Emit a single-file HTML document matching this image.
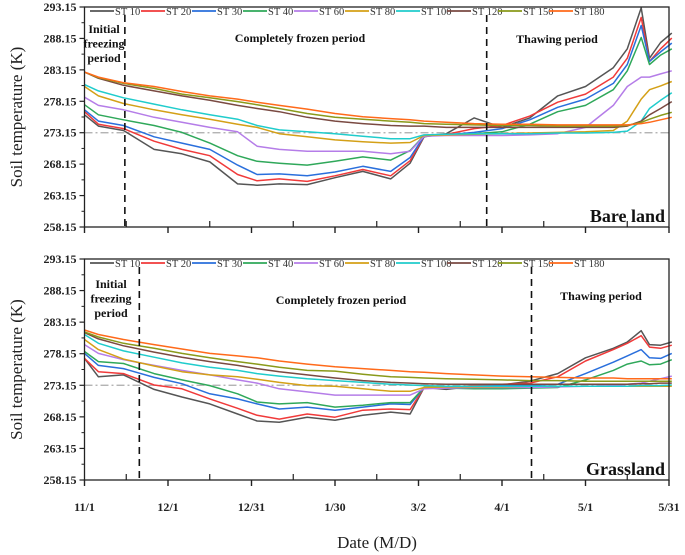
<!DOCTYPE html>
<html><head><meta charset="utf-8"><style>
html,body{margin:0;padding:0;background:#fff;}
svg{display:block;font-family:"Liberation Serif",serif;}
</style></head><body>
<svg id="chart" width="685" height="555" viewBox="0 0 685 555"></svg>
<script>
const days=[0,5,14,25,35,45,55,62,70,80,90,100,110,117,122,130,140,150,160,170,180,190,195,200,203,207,211];
const seriesNames=["ST 10","ST 20","ST 30","ST 40","ST 60","ST 80","ST 100","ST 120","ST 150","ST 180"];
const seriesColors=["#555555","#f03a3a","#2a6fdc","#2fa85a","#b57de8","#d4a017","#20cccc","#7a4a42","#8a9a1a","#ff6a1a"];
const xTickLabels=["11/1","12/1","12/31","1/30","3/2","4/1","5/1","5/31"];
const yTickValues=[258.15,263.15,268.15,273.15,278.15,283.15,288.15,293.15];
const bare10=[276.0,274.2,273.5,270.5,269.8,268.5,265.0,264.8,265.0,264.9,266.0,267.0,265.8,268.3,272.5,273.0,275.5,274.0,275.5,279.0,280.5,283.5,286.5,293.0,285.0,287.5,289.0];
const bare20=[276.5,274.5,273.8,271.8,270.5,269.5,266.5,265.5,265.8,265.4,266.3,267.3,266.3,268.7,272.6,272.9,273.8,274.3,275.8,278.0,279.3,282.0,285.0,291.5,284.5,286.5,288.2];
const bare30=[276.8,275.0,274.3,272.5,271.5,270.5,268.0,266.5,266.6,266.3,266.9,267.8,267.0,269.2,272.6,272.8,273.2,273.8,275.2,277.2,278.5,281.0,284.0,290.2,284.5,286.0,287.4];
const bare40=[277.6,276.0,275.2,274.3,273.2,271.5,269.5,268.6,268.3,268.0,268.6,269.3,268.8,270.3,272.7,272.8,273.0,273.3,274.5,276.5,277.5,280.0,283.0,288.3,284.0,285.5,286.5];
const bare60=[278.8,277.5,276.8,275.6,274.8,274.0,273.3,271.0,270.5,270.2,270.2,270.2,269.8,270.2,272.6,272.7,272.7,272.7,272.8,273.0,274.0,277.5,280.5,282.0,282.0,282.5,283.0];
const bare80=[280.5,279.0,277.8,276.8,276.0,275.3,274.5,274.0,273.0,272.5,272.0,271.7,271.5,271.6,272.7,272.8,272.9,273.0,273.1,273.2,273.3,273.5,275.0,278.5,280.0,280.6,281.3];
const bare100=[280.8,279.8,278.7,277.7,276.8,276.0,275.3,274.3,273.6,273.3,273.0,272.6,272.2,272.2,272.8,272.9,273.0,273.0,273.0,273.1,273.1,273.2,273.4,275.0,277.0,278.3,279.5];
const bare120=[282.8,281.8,280.7,279.8,279.0,278.3,277.5,277.0,276.5,275.6,275.0,274.6,274.3,274.2,274.2,274.0,274.0,274.0,274.0,274.0,274.0,274.0,274.2,275.0,276.0,277.0,278.1];
const bare150=[282.8,281.9,281.0,280.2,279.3,278.7,278.1,277.6,277.0,276.2,275.6,275.3,275.0,274.8,274.6,274.5,274.4,274.3,274.3,274.2,274.2,274.2,274.3,274.8,275.3,275.9,276.4];
const bare180=[282.8,282.0,281.1,280.5,279.7,279.0,278.5,278.0,277.5,276.9,276.2,275.7,275.4,275.2,275.0,274.8,274.6,274.5,274.5,274.4,274.4,274.4,274.4,274.6,274.8,275.2,275.6];
const grass10=[277.4,274.5,274.8,272.5,271.3,270.2,268.6,267.5,267.3,268.1,267.6,268.4,268.9,268.6,272.8,272.5,273.0,273.2,273.8,275.0,277.5,279.0,280.0,281.8,279.6,279.5,280.0];
const grass20=[277.4,275.3,275.0,273.2,272.6,271.0,269.5,268.4,267.8,268.6,268.1,269.2,269.4,269.3,272.8,272.9,273.1,273.3,273.5,274.5,277.0,278.8,279.8,281.0,279.2,279.0,279.5];
const grass30=[278.2,276.3,275.8,274.4,273.4,271.8,271.0,270.2,269.4,269.7,269.2,269.7,270.2,270.1,272.8,272.9,273.0,273.1,273.2,273.3,275.0,276.8,277.8,278.8,277.5,277.4,278.2];
const grass40=[278.5,276.9,276.6,275.0,274.0,273.1,271.8,270.5,270.2,270.4,269.7,270.0,270.4,270.4,272.8,272.7,272.6,272.6,272.7,272.8,274.0,275.5,276.5,277.0,276.4,276.5,277.2];
const grass60=[279.6,278.2,277.2,276.3,275.5,274.8,274.0,273.5,272.6,272.1,271.6,271.6,271.6,271.6,272.6,272.7,272.8,272.8,272.8,272.9,273.0,273.1,273.3,273.5,273.8,274.2,274.6];
const grass80=[280.4,278.8,277.3,276.2,275.3,274.8,274.5,274.1,273.6,273.1,273.0,272.6,272.2,272.2,272.8,272.9,272.9,272.9,273.0,273.0,273.0,273.0,273.0,273.0,273.0,273.0,273.0];
const grass100=[281.2,279.8,278.6,277.6,276.7,276.0,275.5,275.0,274.6,274.2,273.9,273.6,273.3,273.2,273.1,273.0,273.0,273.0,273.0,273.0,273.0,273.0,273.0,273.1,273.1,273.1,273.2];
const grass120=[281.5,280.5,279.4,278.4,277.6,276.9,276.3,275.8,275.3,274.8,274.3,273.9,273.6,273.5,273.4,273.3,273.3,273.3,273.3,273.3,273.3,273.3,273.3,273.4,273.4,273.5,273.5];
const grass150=[281.6,280.8,279.8,279.0,278.2,277.5,276.9,276.5,276.0,275.5,275.4,274.9,274.5,274.4,274.3,274.2,274.1,274.0,273.9,273.9,273.8,273.8,273.8,273.8,273.8,273.8,273.8];
const grass180=[281.9,281.2,280.4,279.6,278.9,278.2,277.8,277.5,277.0,276.5,276.1,275.8,275.5,275.3,275.2,275.0,274.8,274.6,274.5,274.4,274.3,274.3,274.2,274.2,274.2,274.2,274.2];
const bareSeries=[bare10,bare20,bare30,bare40,bare60,bare80,bare100,bare120,bare150,bare180];
const grassSeries=[grass10,grass20,grass30,grass40,grass60,grass80,grass100,grass120,grass150,grass180];
const bareDividers=[14.5,144.5];
const grassDividers=[19.7,160.6];

const svg=document.getElementById('chart');
const NS='http://www.w3.org/2000/svg';
function mk(tag,attrs,parent){const e=document.createElementNS(NS,tag);for(const k in attrs)e.setAttribute(k,attrs[k]);(parent||svg).appendChild(e);return e;}
const X0=84.5,X1=669,DMAX=210;
function xScale(d){return X0+(X1-X0)*d/DMAX;}

function panel(name,top,bottom,series,dividers,labels,title,showX){
  const g=mk('g',{});
  
  
  const yScale=v=>bottom-(v-258.15)/35*(bottom-top);
  const rl=mk('line',{x1:X0,x2:X1,y1:yScale(273.15),y2:yScale(273.15),stroke:'#aaa','stroke-width':1.2,'stroke-dasharray':'8,3,2,3'},g);
  
  
  for(let s=0;s<series.length;s++){
    const pts=series[s].map((v,i)=>xScale(days[i]).toFixed(1)+','+yScale(v).toFixed(1)).join(' ');
    const pl=mk('polyline',{points:pts,fill:'none',stroke:seriesColors[s],'stroke-width':1.5,'stroke-linejoin':'round'},g);
    
    
  }
  dividers.forEach((d,i)=>{
    const l=mk('line',{x1:xScale(d),x2:xScale(d),y1:top+8,y2:bottom,stroke:'#111','stroke-width':1.6,'stroke-dasharray':'7,5'},g);
    
    
  });
  const fr=mk('rect',{x:X0,y:top,width:X1-X0,height:bottom-top,fill:'none',stroke:'#222','stroke-width':1.3},g);
  
  
  yTickValues.forEach((v,i)=>{
    const y=yScale(v);
    mk('line',{x1:X0-5,x2:X0,y1:y,y2:y,stroke:'#222','stroke-width':1.2},g);
    if(i<yTickValues.length-1){const ym=yScale(v+2.5);mk('line',{x1:X0-3,x2:X0,y1:ym,y2:ym,stroke:'#222','stroke-width':1},g);}
    const t=mk('text',{x:X0-8,y:y+4,'text-anchor':'end','font-size':12,'font-weight':'bold',fill:'#222'},g);
    t.textContent=v.toFixed(2);
    
    
  });
  xTickLabels.forEach((lab,i)=>{
    const x=xScale(i*30);
    mk('line',{x1:x,x2:x,y1:bottom,y2:bottom+6,stroke:'#222','stroke-width':1.4},g);
    if(i<xTickLabels.length-1){const xm=xScale(i*30+15);mk('line',{x1:xm,x2:xm,y1:bottom,y2:bottom-6,stroke:'#222','stroke-width':1.2},g);}
    if(showX){
      const t=mk('text',{x:x,y:511,'text-anchor':'middle','font-size':12,'font-weight':'bold',fill:'#222'},g);
      t.textContent=lab;
      
      
    }
  });
  seriesNames.forEach((n,i)=>{
    const tx=115+i*51;
    const ly=top+7;
    const le=mk('g',{},g);
    
    
    mk('line',{x1:tx-25,x2:tx-1,y1:ly-3,y2:ly-3,stroke:seriesColors[i],'stroke-width':1.8},le);
    const t=mk('text',{x:tx,y:ly+1,'font-size':10.5,fill:'#333'},le);
    t.textContent=n;
  });
  labels.forEach(L=>{
    L.lines.forEach((ln,j)=>{
      const t=mk('text',{x:L.x,y:L.y+j*14.5,'text-anchor':'middle','font-size':12,'font-weight':'bold',fill:'#111'},g);
      t.textContent=ln;
      
      
    });
  });
  const tt=mk('text',{x:X1-4,y:bottom-5,'text-anchor':'end','font-size':18,'font-weight':'bold',fill:'#111'},g);
  tt.textContent=title;
  
  
  const ymid=(top+bottom)/2;
  const yt=mk('text',{x:22,y:ymid,'text-anchor':'middle','font-size':17,fill:'#222',transform:'rotate(-90 22 '+ymid+')'},g);
  yt.textContent='Soil temperature (K)';
  
  
}
panel('bare-land-panel',7,227,bareSeries,bareDividers,[
  {x:104,y:33,lines:['Initial','freezing','period']},
  {x:300,y:42,lines:['Completely frozen period']},
  {x:557,y:43,lines:['Thawing period']}],'Bare land',false);
panel('grassland-panel',259,480,grassSeries,grassDividers,[
  {x:111,y:288,lines:['Initial','freezing','period']},
  {x:341,y:304,lines:['Completely frozen period']},
  {x:601,y:300,lines:['Thawing period']}],'Grassland',true);
const xt=mk('text',{x:377,y:548,'text-anchor':'middle','font-size':17,fill:'#222'});
xt.textContent='Date (M/D)';


</script>
</body></html>
